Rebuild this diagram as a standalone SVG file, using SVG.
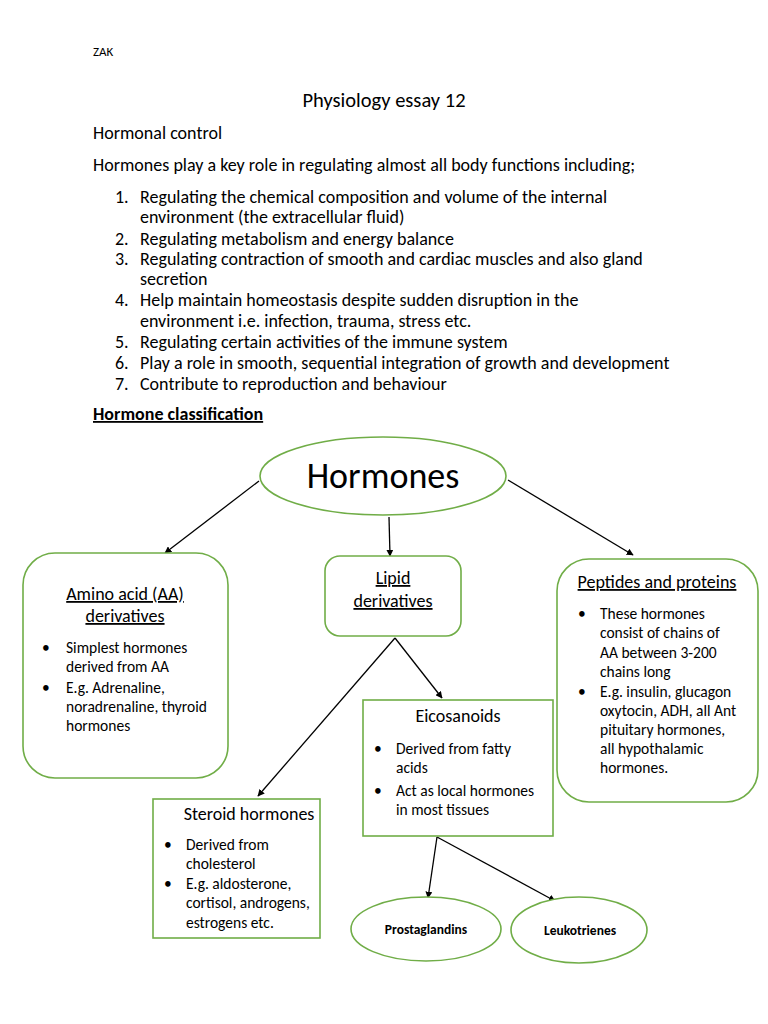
<svg xmlns="http://www.w3.org/2000/svg" width="768" height="1024" viewBox="0 0 768 1024">
<defs>
<marker id="ah" viewBox="0 0 10 10" refX="9" refY="5" markerWidth="7" markerHeight="7" markerUnits="userSpaceOnUse" orient="auto"><path d="M0,0 L10,5 L0,10 z" fill="#000"/></marker>
<style>
text{font-family:Carlito,Lato,"Open Sans",sans-serif;fill:#000}
.b{font-size:18px}
.n{font-size:15.5px}
.h{font-size:18px}
.u{text-decoration:underline}
.g{fill:#fff;stroke:#70ad47;stroke-width:1.6}
.c{stroke:#000;stroke-width:1.3;fill:none;marker-end:url(#ah)}
.m{text-anchor:middle}
</style>
</defs>
<rect width="768" height="1024" fill="#fff"/>
<g id="page-text">
<text x="93" y="56" font-size="13">ZAK</text>
<text x="384" y="107" font-size="20.5" class="m">Physiology essay 12</text>
<text x="93" y="139" class="b">Hormonal control</text>
<text x="93" y="171" class="b">Hormones play a key role in regulating almost all body functions including;</text>
<g class="b">
<text x="115" y="203">1.</text><text x="140" y="203">Regulating the chemical composition and volume of the internal</text>
<text x="140" y="223">environment (the extracellular fluid)</text>
<text x="115" y="245">2.</text><text x="140" y="245">Regulating metabolism and energy balance</text>
<text x="115" y="265">3.</text><text x="140" y="265">Regulating contraction of smooth and cardiac muscles and also gland</text>
<text x="140" y="285">secretion</text>
<text x="115" y="306">4.</text><text x="140" y="306">Help maintain homeostasis despite sudden disruption in the</text>
<text x="140" y="327">environment i.e. infection, trauma, stress etc.</text>
<text x="115" y="348">5.</text><text x="140" y="348">Regulating certain activities of the immune system</text>
<text x="115" y="369">6.</text><text x="140" y="369">Play a role in smooth, sequential integration of growth and development</text>
<text x="115" y="390">7.</text><text x="140" y="390">Contribute to reproduction and behaviour</text>
</g>
<text x="93" y="420" class="b u" font-weight="bold">Hormone classification</text>
</g>
<g id="connectors">
<line class="c" x1="259" y1="481" x2="165" y2="553"/>
<line class="c" x1="389" y1="517" x2="390" y2="556"/>
<line class="c" x1="508" y1="480" x2="633" y2="555"/>
<line class="c" x1="395" y1="638" x2="258" y2="796"/>
<line class="c" x1="395" y1="638" x2="442" y2="698"/>
<line class="c" x1="437" y1="837" x2="428" y2="898"/>
<line class="c" x1="437" y1="837" x2="555" y2="901"/>
</g>
<g id="hormones">
<ellipse class="g" cx="383" cy="476" rx="123" ry="39"/>
<text x="383" y="488" font-size="36" class="m">Hormones</text>
</g>
<g id="amino-acid">
<rect class="g" x="23" y="553" width="205" height="225" rx="32"/>
<text x="125" y="600" class="h m u">Amino acid (AA)</text>
<text x="125" y="622" class="h m u">derivatives</text>
<g class="n">
<text x="42" y="653">•</text><text x="66" y="653">Simplest hormones</text>
<text x="66" y="672">derived from AA</text>
<text x="42" y="693">•</text><text x="66" y="693">E.g. Adrenaline,</text>
<text x="66" y="712">noradrenaline, thyroid</text>
<text x="66" y="731">hormones</text>
</g>
</g>
<g id="lipid">
<rect class="g" x="325" y="556" width="136" height="80" rx="15"/>
<text x="393" y="584" class="h m u">Lipid</text>
<text x="393" y="607" class="h m u">derivatives</text>
</g>
<g id="peptides">
<rect class="g" x="557" y="559" width="201" height="243" rx="32"/>
<text x="657" y="588" class="h m u">Peptides and proteins</text>
<g class="n">
<text x="578" y="619">•</text><text x="600" y="619">These hormones</text>
<text x="600" y="638">consist of chains of</text>
<text x="600" y="658">AA between 3-200</text>
<text x="600" y="677">chains long</text>
<text x="578" y="697">•</text><text x="600" y="697">E.g. insulin, glucagon</text>
<text x="600" y="716">oxytocin, ADH, all Ant</text>
<text x="600" y="735">pituitary hormones,</text>
<text x="600" y="754">all hypothalamic</text>
<text x="600" y="773">hormones.</text>
</g>
</g>
<g id="eicosanoids">
<rect class="g" x="363" y="700" width="190" height="136"/>
<text x="458" y="722" class="h m">Eicosanoids</text>
<g class="n">
<text x="374" y="754">•</text><text x="396" y="754">Derived from fatty</text>
<text x="396" y="773">acids</text>
<text x="374" y="796">•</text><text x="396" y="796">Act as local hormones</text>
<text x="396" y="815">in most tissues</text>
</g>
</g>
<g id="steroid">
<rect class="g" x="153" y="799" width="167" height="139"/>
<text x="249" y="820" class="h m">Steroid hormones</text>
<g class="n">
<text x="164" y="850">•</text><text x="186" y="850">Derived from</text>
<text x="186" y="869">cholesterol</text>
<text x="164" y="889">•</text><text x="186" y="889">E.g. aldosterone,</text>
<text x="186" y="908">cortisol, androgens,</text>
<text x="186" y="928">estrogens etc.</text>
</g>
</g>
<g id="prostaglandins">
<ellipse class="g" cx="426" cy="929" rx="75" ry="32"/>
<text x="426" y="934" font-size="13.5" class="m" font-weight="bold">Prostaglandins</text>
</g>
<g id="leukotrienes">
<ellipse class="g" cx="579" cy="930" rx="68" ry="33"/>
<text x="580" y="935" font-size="13.5" class="m" font-weight="bold">Leukotrienes</text>
</g>
</svg>
